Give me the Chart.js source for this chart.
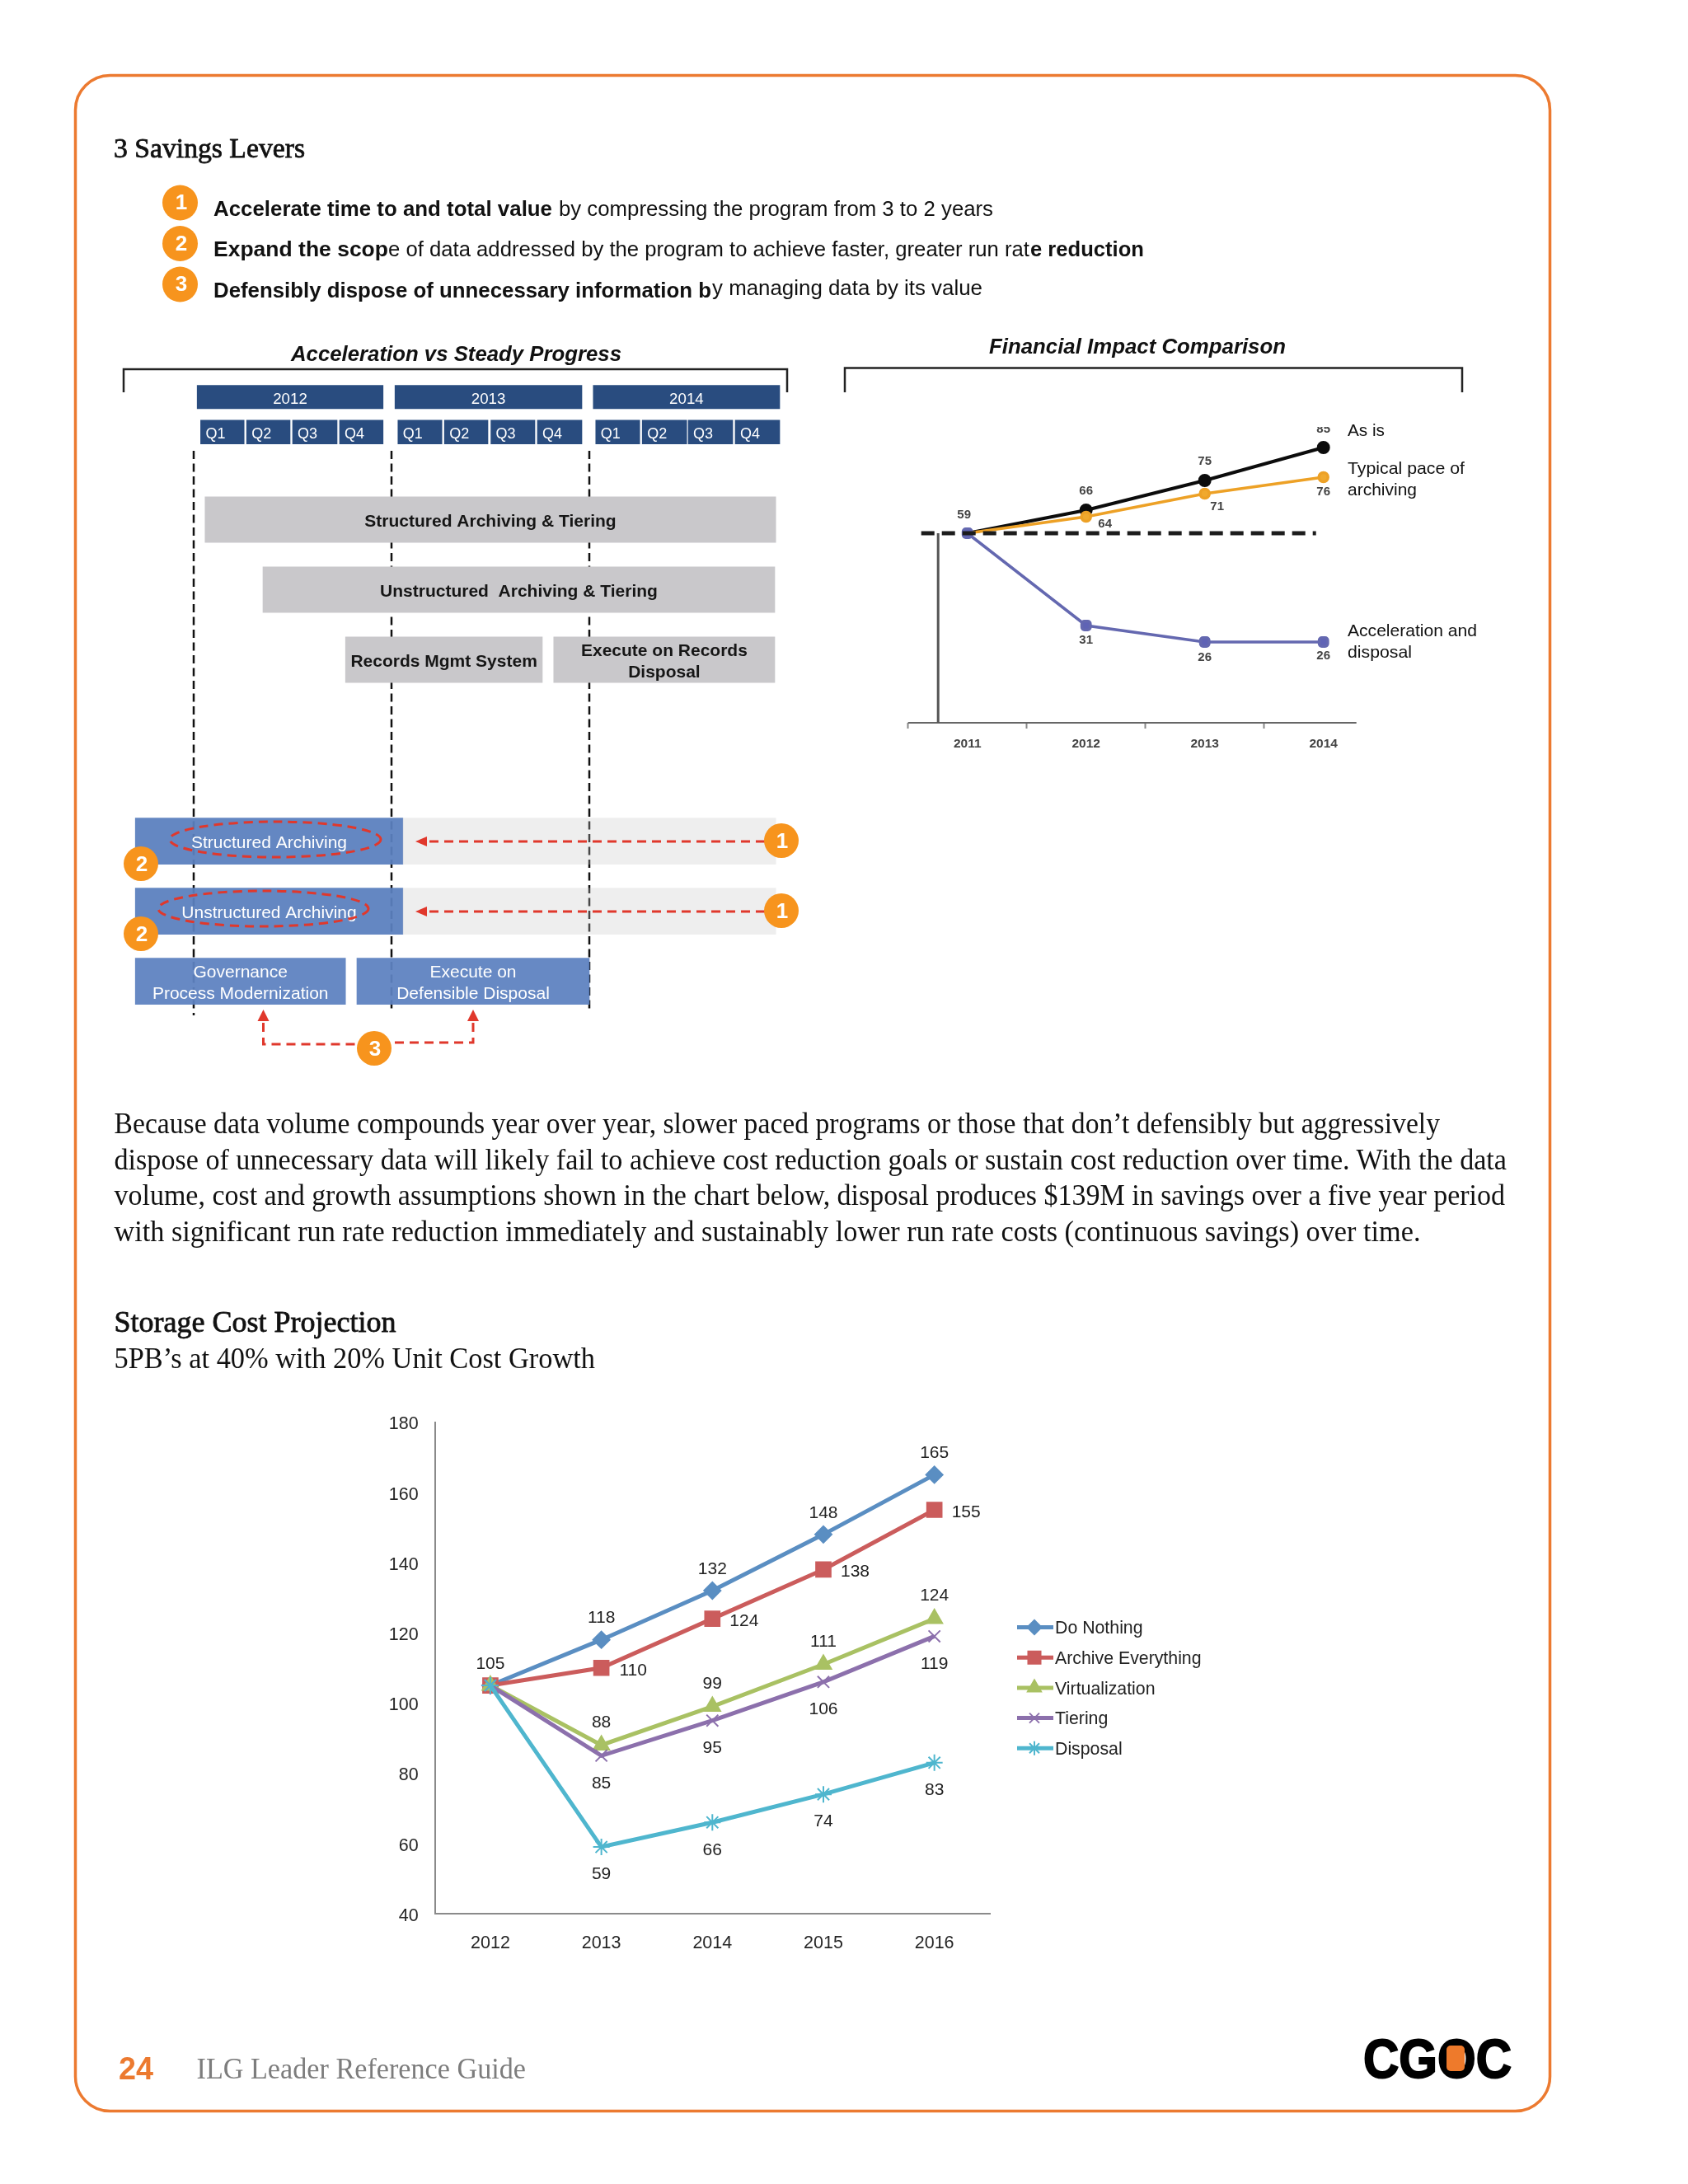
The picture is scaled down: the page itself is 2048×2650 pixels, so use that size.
<!DOCTYPE html>
<html>
<head>
<meta charset="utf-8">
<title>3 Savings Levers</title>
<script src="https://cdn.jsdelivr.net/npm/chart.js"></script>
<style>
  html, body { margin: 0; background: #fff; }
  #page { position: relative; width: 2048px; height: 2650px; overflow: hidden; background: #fff; }
  #page canvas, #page svg { position: absolute; }
  #ganttChart { left: 115px; top: 440px; }
  #impactChart { left: 1100px; top: 518px; filter: blur(0.5px); }
  #storageChart { left: 440px; top: 1680px; }
  #page svg { left: 0; top: 0; }
  .serif { font-family: "Liberation Serif", serif; fill: #111; }
  .sans { font-family: "Liberation Sans", Arial, sans-serif; fill: #111; }
  .badge { fill: #F7941D; }
  .badgeNum { font-family: "Liberation Sans", Arial, sans-serif; font-weight: bold; fill: #fff; text-anchor: middle; }
  .redDash { fill: none; stroke: #E0382C; stroke-width: 3; stroke-dasharray: 11 7; }
</style>
</head>
<body>
<div id="page">
  <canvas id="ganttChart" width="840" height="800"></canvas>
  <canvas id="impactChart" width="580" height="400"></canvas>
  <canvas id="storageChart" width="1040" height="700"></canvas>

  <svg width="2048" height="2650" xmlns="http://www.w3.org/2000/svg">
    <rect x="91.5" y="91.5" width="1789" height="2470" rx="42" fill="none" stroke="#EC7A30" stroke-width="3.5"/>

    <text class="serif" x="138" y="191" font-size="34" stroke="#111" stroke-width="0.8" textLength="232" lengthAdjust="spacingAndGlyphs">3 Savings Levers</text>

    <!-- lever list -->
    <ellipse class="badge" cx="218.5" cy="246" rx="21.5" ry="21.5"/>
    <text class="badgeNum" x="220" y="254" font-size="26">1</text>
    <ellipse class="badge" cx="218.5" cy="295.5" rx="21.5" ry="21.5"/>
    <text class="badgeNum" x="220" y="303.5" font-size="26">2</text>
    <ellipse class="badge" cx="218.5" cy="345" rx="21.5" ry="21.5"/>
    <text class="badgeNum" x="220" y="353" font-size="26">3</text>

    <text class="sans" x="259" y="261.5" font-size="26" font-weight="bold" textLength="411" lengthAdjust="spacingAndGlyphs">Accelerate time to and total value</text>
    <text class="sans" x="678" y="261.5" font-size="26" textLength="527" lengthAdjust="spacingAndGlyphs">by compressing the program from 3 to 2 years</text>
    <text class="sans" x="259" y="311" font-size="26" font-weight="bold" textLength="212" lengthAdjust="spacingAndGlyphs">Expand the scop</text>
    <text class="sans" x="471" y="311" font-size="26" textLength="778" lengthAdjust="spacingAndGlyphs">e of data addressed by the program to achieve faster, greater run rat</text>
    <text class="sans" x="1250" y="311" font-size="26" font-weight="bold" textLength="138" lengthAdjust="spacingAndGlyphs">e reduction</text>
    <text class="sans" x="259" y="360.5" font-size="26" font-weight="bold" textLength="604" lengthAdjust="spacingAndGlyphs">Defensibly dispose of unnecessary information b</text>
    <text class="sans" x="864" y="358" font-size="26" textLength="328" lengthAdjust="spacingAndGlyphs">y managing data by its value</text>

    <!-- section headings and brackets -->
    <text class="sans" x="353" y="438" font-size="25" font-weight="bold" font-style="italic" textLength="401" lengthAdjust="spacingAndGlyphs">Acceleration vs Steady Progress</text>
    <text class="sans" x="1200" y="429" font-size="25" font-weight="bold" font-style="italic" textLength="360" lengthAdjust="spacingAndGlyphs">Financial Impact Comparison</text>
    <polyline points="150,476 150,448 955,448 955,476" fill="none" stroke="#222" stroke-width="2.5"/>
    <polyline points="1025,476 1025,446.5 1774,446.5 1774,476" fill="none" stroke="#222" stroke-width="2.5"/>

    <!-- impact chart direct labels -->
    <text class="sans" x="1635" y="528.5" font-size="21" textLength="45" lengthAdjust="spacingAndGlyphs">As is</text>
    <text class="sans" x="1635" y="574.5" font-size="21" textLength="142" lengthAdjust="spacingAndGlyphs">Typical pace of</text>
    <text class="sans" x="1635" y="600.5" font-size="21" textLength="84" lengthAdjust="spacingAndGlyphs">archiving</text>
    <text class="sans" x="1635" y="772" font-size="21" textLength="157" lengthAdjust="spacingAndGlyphs">Acceleration and</text>
    <text class="sans" x="1635" y="797.5" font-size="21" textLength="78" lengthAdjust="spacingAndGlyphs">disposal</text>

    <!-- callouts over the timeline -->
    <ellipse class="redDash" cx="334" cy="1018.5" rx="128" ry="21.5"/>
    <ellipse class="redDash" cx="319.5" cy="1102.5" rx="127.5" ry="21.5"/>
    <line class="redDash" x1="928" y1="1021" x2="518" y2="1021"/>
    <polygon points="504,1021 518,1015 518,1027" fill="#E0382C"/>
    <line class="redDash" x1="928" y1="1106" x2="518" y2="1106"/>
    <polygon points="504,1106 518,1100 518,1112" fill="#E0382C"/>
    <polyline class="redDash" points="319.5,1241 319.5,1267 454,1267"/>
    <polygon points="319.5,1225 312.5,1239 326.5,1239" fill="#E0382C"/>
    <polyline class="redDash" points="574,1241 574,1265 454,1265"/>
    <polygon points="574,1225 567,1239 581,1239" fill="#E0382C"/>

    <ellipse class="badge" cx="948" cy="1020" rx="21" ry="21"/>
    <text class="badgeNum" x="949" y="1029" font-size="26">1</text>
    <ellipse class="badge" cx="948" cy="1105" rx="21" ry="21"/>
    <text class="badgeNum" x="949" y="1114" font-size="26">1</text>
    <ellipse class="badge" cx="171" cy="1048" rx="21" ry="21"/>
    <text class="badgeNum" x="172" y="1057" font-size="26">2</text>
    <ellipse class="badge" cx="171" cy="1133" rx="21" ry="21"/>
    <text class="badgeNum" x="172" y="1142" font-size="26">2</text>
    <ellipse class="badge" cx="454" cy="1272" rx="21" ry="21"/>
    <text class="badgeNum" x="455" y="1281" font-size="26">3</text>

    <!-- body copy -->
    <text class="serif" x="138.5" y="1375" font-size="36" textLength="1608.5" lengthAdjust="spacingAndGlyphs">Because data volume compounds year over year, slower paced programs or those that don’t defensibly but aggressively</text>
    <text class="serif" x="138.5" y="1418.5" font-size="36" textLength="1689.5" lengthAdjust="spacingAndGlyphs">dispose of unnecessary data will likely fail to achieve cost reduction goals or sustain cost reduction over time. With the data</text>
    <text class="serif" x="138.5" y="1462" font-size="36" textLength="1687.5" lengthAdjust="spacingAndGlyphs">volume, cost and growth assumptions shown in the chart below, disposal produces $139M in savings over a five year period</text>
    <text class="serif" x="138.5" y="1505.5" font-size="36" textLength="1585" lengthAdjust="spacingAndGlyphs">with significant run rate reduction immediately and sustainably lower run rate costs (continuous savings) over time.</text>

    <text class="serif" x="138.5" y="1616" font-size="36" stroke="#111" stroke-width="0.8" textLength="342" lengthAdjust="spacingAndGlyphs">Storage Cost Projection</text>
    <text class="serif" x="138.5" y="1659.5" font-size="36" textLength="583.5" lengthAdjust="spacingAndGlyphs">5PB’s at 40% with 20% Unit Cost Growth</text>

    <!-- footer -->
    <text class="sans" x="144" y="2522.5" font-size="39" font-weight="bold" style="fill:#EC7A30" textLength="42" lengthAdjust="spacingAndGlyphs">24</text>
    <text class="serif" x="238.5" y="2521.5" font-size="36" style="fill:#7d7d7d" textLength="399.5" lengthAdjust="spacingAndGlyphs">ILG Leader Reference Guide</text>
    <text class="sans" x="1654" y="2520.5" font-size="66" font-weight="bold" stroke="#000" stroke-width="2" style="fill:#000" textLength="180" lengthAdjust="spacingAndGlyphs">CGOC</text>
    <rect x="1755" y="2482" width="22" height="31" rx="5" fill="#EE7A2B"/>
  </svg>
</div>

<script>
// Storage Cost Projection
const storageYears = ["2012", "2013", "2014", "2015", "2016"];
const doNothing = [105, 118, 132, 148, 165];
const archiveEverything = [105, 110, 124, 138, 155];
const virtualization = [105, 88, 99, 111, 124];
const tiering = [105, 85, 95, 106, 119];
const disposal = [105, 59, 66, 74, 83];

// Financial Impact Comparison
const impactYears = ["2011", "2012", "2013", "2014"];
const asIs = [59, 66, 75, 85];
const typicalPace = [59, 64, 71, 76];
const acceleration = [59, 31, 26, 26];
const baselineValue = 59;

// Timeline, spans in quarters counted from the start of 2012
const timelineYears = ["2012", "2013", "2014"];
const yearSpans = [[0.07, 3.83], [4.07, 7.85], [8.08, 11.85]];
const quarterNames = ["Q1", "Q2", "Q3", "Q4", "Q1", "Q2", "Q3", "Q4", "Q1", "Q2", "Q3", "Q4"];
const quarterSpans = [[0.14, 1.02], [1.07, 1.95], [2.0, 2.9], [2.95, 3.83], [4.13, 5.02], [5.07, 5.95], [6.01, 6.9], [6.95, 7.85], [8.13, 9.02], [9.07, 9.97], [10.0, 10.9], [10.95, 11.85]];
const workNames = ["Structured Archiving & Tiering", "Unstructured  Archiving & Tiering", "Records Mgmt System", ["Execute on Records", "Disposal"]];
const workSpans = [[0.23, 11.77], [1.4, 11.75], [3.07, 7.05], [7.28, 11.75]];
const archivingNames = ["Structured Archiving", "Unstructured Archiving"];
const archivingSpans = [[-1.18, 4.23], [-1.18, 4.23]];
const steadySpans = [[4.23, 11.77], [4.23, 11.77]];
const disposalNames = [["Governance", "Process Modernization"], ["Execute on", "Defensible Disposal"]];
const disposalSpans = [[-1.18, 3.07], [3.3, 8.0]];
const yearStarts = [0, 4, 8];

Chart.defaults.font.family = '"Liberation Sans", Arial, sans-serif';
Chart.defaults.animation = false;
Chart.defaults.responsive = false;
Chart.defaults.devicePixelRatio = 1;
Chart.defaults.events = [];
Chart.defaults.plugins.legend.display = false;
Chart.defaults.plugins.tooltip.enabled = false;

// draws each point's value at the offset kept on the dataset
const pointValues = {
  id: "pointValues",
  afterDatasetsDraw(chart, args, opts) {
    const ctx = chart.ctx;
    ctx.save();
    ctx.font = opts.font;
    ctx.fillStyle = opts.color;
    ctx.textAlign = "center";
    ctx.textBaseline = "middle";
    chart.data.datasets.forEach(function (ds, i) {
      chart.getDatasetMeta(i).data.forEach(function (pt, j) {
        const off = ds.labelOffsets[j];
        if (off) ctx.fillText(ds.data[j], pt.x + off[0], pt.y + off[1]);
      });
    });
    ctx.restore();
  }
};

// line and marker legend on the right of the storage chart
const sideLegend = {
  id: "sideLegend",
  afterDraw(chart) {
    const ctx = chart.ctx;
    ctx.save();
    ctx.font = '21.3px "Liberation Sans", Arial, sans-serif';
    ctx.textBaseline = "middle";
    chart.data.datasets.forEach(function (ds, i) {
      const y = 294.5 + i * 36.7;
      ctx.strokeStyle = ds.borderColor;
      ctx.lineWidth = 5;
      ctx.beginPath();
      ctx.moveTo(794, y);
      ctx.lineTo(838, y);
      ctx.stroke();
      ctx.strokeStyle = ds.borderColor;
      ctx.fillStyle = ds.borderColor;
      ctx.lineWidth = ds.pointBorderWidth;
      Chart.helpers.drawPoint(ctx, { pointStyle: ds.pointStyle, radius: ds.pointRadius * 0.85, rotation: 0, borderWidth: ds.pointBorderWidth }, 815, y);
      ctx.fillStyle = "#222";
      ctx.fillText(ds.label, 840, y + 2);
    });
    ctx.restore();
  }
};

function storageSeries(label, data, color, style, radius, offset, from, order) {
  return {
    label: label,
    data: data,
    borderColor: color,
    backgroundColor: color,
    borderWidth: 5,
    tension: 0,
    pointStyle: style,
    pointRadius: radius,
    pointBorderWidth: 2,
    order: order,
    labelOffsets: data.map(function (v, i) { return i < from ? null : offset; })
  };
}

new Chart(document.getElementById("storageChart"), {
  type: "line",
  data: {
    labels: storageYears,
    datasets: [
      storageSeries("Do Nothing", doNothing, "#5A8EC2", "rectRot", 10, [0, -26], 0, 5),
      storageSeries("Archive Everything", archiveEverything, "#CB5C5C", "rect", 12.5, [38.5, 3], 1, 4),
      storageSeries("Virtualization", virtualization, "#A9C163", "triangle", 11, [0, -27.5], 1, 3),
      storageSeries("Tiering", tiering, "#8C70AC", "crossRot", 10, [0, 33.5], 1, 2),
      storageSeries("Disposal", disposal, "#4FB6CE", "star", 10, [0, 33.5], 1, 1)
    ]
  },
  options: {
    layout: { padding: { top: 45.5, right: 279, bottom: 0, left: 0 } },
    scales: {
      x: {
        offset: true,
        grid: { display: false, drawTicks: false },
        border: { color: "#8a8a8a", width: 2 },
        ticks: { color: "#262626", font: { size: 21.5 }, padding: 23 },
        afterFit(scale) { scale.height = 58; }
      },
      y: {
        min: 40,
        max: 180,
        grid: { display: false, drawTicks: false },
        border: { color: "#8a8a8a", width: 2 },
        ticks: { stepSize: 20, color: "#262626", font: { size: 21.5 }, padding: 20, labelOffset: 3 },
        afterFit(scale) { scale.width = 87.6; }
      }
    },
    plugins: {
      pointValues: { font: '21px "Liberation Sans", Arial, sans-serif', color: "#222" }
    }
  },
  plugins: [pointValues, sideLegend]
});

// axis stub, riser and dashed baseline of the impact chart
const impactFrame = {
  id: "impactFrame",
  afterDatasetsDraw(chart) {
    const ctx = chart.ctx;
    const x = chart.scales.x;
    const y = chart.scales.y;
    const base = y.getPixelForValue(baselineValue);
    ctx.save();
    ctx.strokeStyle = "#666";
    ctx.lineWidth = 2;
    ctx.beginPath();
    ctx.moveTo(x.left, y.bottom);
    ctx.lineTo(x.left + 544, y.bottom);
    ctx.stroke();
    ctx.strokeStyle = "#555";
    ctx.lineWidth = 3;
    ctx.beginPath();
    ctx.moveTo(x.left + 36.5, base);
    ctx.lineTo(x.left + 36.5, y.bottom);
    ctx.stroke();
    ctx.strokeStyle = "#1c1c1c";
    ctx.lineWidth = 5;
    ctx.setLineDash([16, 9]);
    ctx.beginPath();
    ctx.moveTo(x.left + 16, base);
    ctx.lineTo(x.left + 495, base);
    ctx.stroke();
    ctx.restore();
  }
};

new Chart(document.getElementById("impactChart"), {
  type: "line",
  data: {
    labels: impactYears,
    datasets: [
      {
        label: "Acceleration and disposal",
        data: acceleration,
        borderColor: "#6468B0",
        backgroundColor: "#5F63B5",
        borderWidth: 3.5,
        tension: 0,
        pointStyle: "rectRounded",
        pointRadius: 6,
        order: 1,
        labelOffsets: [null, [0, 18], [0, 19], [0, 17]]
      },
      {
        label: "Typical pace of archiving",
        data: typicalPace,
        borderColor: "#EDA126",
        backgroundColor: "#F0A92E",
        borderWidth: 3.5,
        tension: 0,
        pointRadius: [0, 5.5, 5.5, 5.5],
        order: 2,
        labelOffsets: [null, [23, 9], [15, 16], [0, 18]]
      },
      {
        label: "As is",
        data: asIs,
        borderColor: "#0c0c0c",
        backgroundColor: "#0c0c0c",
        borderWidth: 4,
        tension: 0,
        pointRadius: [0, 6, 6, 6],
        order: 3,
        labelOffsets: [[-4, -22], [0, -23], [0, -23], [0, -22]]
      }
    ]
  },
  options: {
    layout: { autoPadding: false, padding: { left: 1.7, right: 2.3 } },
    scales: {
      x: {
        offset: true,
        grid: {
          offset: true,
          drawOnChartArea: false,
          tickLength: 7,
          tickWidth: 2,
          color: function (c) { return c.index < 4 ? "#888" : "transparent"; }
        },
        border: { display: false },
        ticks: { color: "#444", font: { size: 15.5, weight: "bold" }, padding: 9 },
        afterFit(scale) { scale.height = 41; }
      },
      y: { display: false, min: 1.5, max: 91.25 }
    },
    plugins: {
      pointValues: { font: 'bold 15px "Liberation Sans", Arial, sans-serif', color: "#444" }
    }
  },
  plugins: [pointValues, impactFrame]
});

// dashed year lines sit behind the bars, bar names on top of them
const ganttExtras = {
  id: "ganttExtras",
  beforeDatasetsDraw(chart) {
    const ctx = chart.ctx;
    const x = chart.scales.x;
    ctx.save();
    ctx.strokeStyle = "#111";
    ctx.lineWidth = 2.5;
    ctx.setLineDash([10, 5.5]);
    yearStarts.forEach(function (q, i) {
      ctx.beginPath();
      ctx.moveTo(x.getPixelForValue(q), 107);
      ctx.lineTo(x.getPixelForValue(q), i === 0 ? 792 : 784);
      ctx.stroke();
    });
    ctx.restore();
  },
  afterDatasetsDraw(chart) {
    const ctx = chart.ctx;
    ctx.save();
    ctx.textBaseline = "middle";
    chart.data.datasets.forEach(function (ds, i) {
      if (!ds.names) return;
      ctx.font = ds.nameFont;
      ctx.fillStyle = ds.nameColor;
      ctx.textAlign = ds.nameAlign || "center";
      chart.getDatasetMeta(i).data.forEach(function (bar, j) {
        const lines = [].concat(ds.names[j]);
        const left = Math.min(bar.x, bar.base);
        const cx = ds.nameAlign === "left" ? left + 6 : (bar.x + bar.base) / 2;
        lines.forEach(function (line, k) {
          ctx.fillText(line, cx, bar.y + 3 + (k - (lines.length - 1) / 2) * ds.nameLeading);
        });
      });
    });
    ctx.restore();
  }
};

function ganttBars(spans, rows, color, thickness, names, nameFont, nameColor, nameAlign, nameLeading) {
  return {
    data: spans.map(function (s, i) { return { x: s, y: rows[i] }; }),
    backgroundColor: color,
    barThickness: thickness,
    stack: "all",
    names: names,
    nameFont: nameFont,
    nameColor: nameColor,
    nameAlign: nameAlign,
    nameLeading: nameLeading || 26
  };
}

const yearRows = [-1.75, -1.75, -1.75];
const quarterRows = quarterSpans.map(function () { return -1.25; });
const workRows = [0, 1, 2, 2];
const archivingRows = [4.59, 5.59];
const disposalRows = [6.59, 6.59];
const barFont = 'bold 21px "Liberation Sans", Arial, sans-serif';
const leverFont = '21px "Liberation Sans", Arial, sans-serif';

new Chart(document.getElementById("ganttChart"), {
  type: "bar",
  data: {
    datasets: [
      ganttBars(yearSpans, yearRows, "#294C7F", 28.5, timelineYears, '18.7px "Liberation Sans", Arial, sans-serif', "#fff"),
      ganttBars(quarterSpans, quarterRows, "#294C7F", 29, quarterNames, '18px "Liberation Sans", Arial, sans-serif', "#fff", "left"),
      ganttBars(workSpans, workRows, "#C9C8CB", 55.5, workNames, barFont, "#161616"),
      ganttBars(steadySpans, archivingRows, "rgba(200,200,200,0.3)", 56),
      ganttBars(archivingSpans, archivingRows, "rgba(90,127,190,0.94)", 56, archivingNames, leverFont, "#fff"),
      ganttBars(disposalSpans, disposalRows, "rgba(93,130,192,0.94)", 56, disposalNames, leverFont, "#fff")
    ]
  },
  options: {
    indexAxis: "y",
    scales: {
      x: { type: "linear", display: false, min: -2, max: 12, stacked: false },
      y: { type: "linear", display: false, min: -2.241, max: 7.17, reverse: true, offset: false }
    }
  },
  plugins: [ganttExtras]
});
</script>
</body>
</html>
